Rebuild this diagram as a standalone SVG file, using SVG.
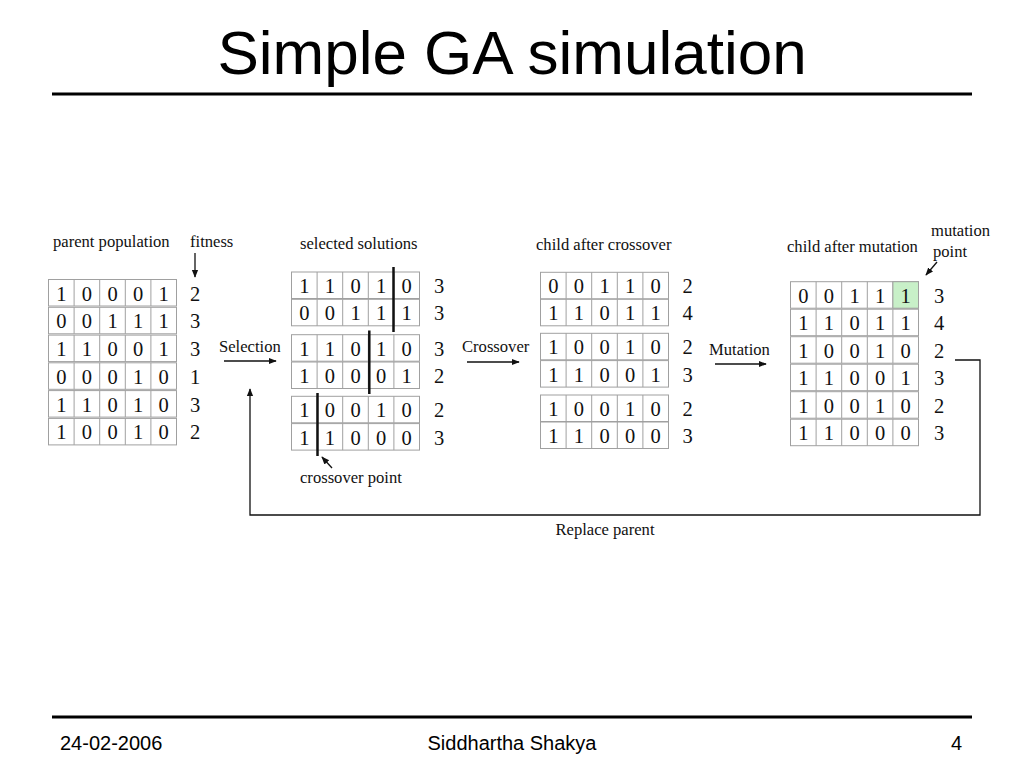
<svg xmlns="http://www.w3.org/2000/svg" width="1024" height="768" viewBox="0 0 1024 768">
<defs>
<style>
.cell{fill:#fff;stroke:#a0a0a0;stroke-width:1}
.div{stroke:#a0a0a0;stroke-width:1}
.d{font-family:"Liberation Serif","Times New Roman",serif;font-size:20.5px;fill:#111;text-anchor:middle}
.lbl{font-family:"Liberation Serif","Times New Roman",serif;font-size:16.6px;fill:#111}
.ln{fill:none;stroke:#111;stroke-width:1.3}
.cx{stroke:#111;stroke-width:2.5}
.hd{font-family:"Liberation Sans",Arial,sans-serif;fill:#000}
.rule{stroke:#000;stroke-width:3}
</style>
<marker id="ah" viewBox="0 0 10 10" refX="9" refY="5" markerWidth="8" markerHeight="8" markerUnits="userSpaceOnUse" orient="auto"><path d="M0,1 L10,5 L0,9 z" fill="#111"/></marker>
<g id="row"><rect class="cell" x="0" y="0" width="128" height="26.5"/><path class="div" d="M25.6,0V26.5M51.2,0V26.5M76.8,0V26.5M102.4,0V26.5"/></g>
</defs>
<rect width="1024" height="768" fill="#fff"/>

<g id="title">
<text class="hd" x="512" y="74" font-size="62" text-anchor="middle">Simple GA simulation</text>
<line class="rule" x1="52" y1="94" x2="972" y2="94"/>
</g>

<g id="parent-population">
<text class="lbl" x="53" y="247">parent population</text>
<text class="lbl" x="190" y="247">fitness</text>
<use href="#row" x="48.5" y="279.5"/><use href="#row" x="48.5" y="307.3"/><use href="#row" x="48.5" y="335.1"/>
<use href="#row" x="48.5" y="362.8"/><use href="#row" x="48.5" y="390.6"/><use href="#row" x="48.5" y="418.4"/>
<text class="d" x="61.3 86.9 112.5 138.1 163.7 195" y="300.5">100012</text>
<text class="d" x="61.3 86.9 112.5 138.1 163.7 195" y="328.3">001113</text>
<text class="d" x="61.3 86.9 112.5 138.1 163.7 195" y="356.1">110013</text>
<text class="d" x="61.3 86.9 112.5 138.1 163.7 195" y="383.8">000101</text>
<text class="d" x="61.3 86.9 112.5 138.1 163.7 195" y="411.6">110103</text>
<text class="d" x="61.3 86.9 112.5 138.1 163.7 195" y="439.4">100102</text>
</g>

<g id="selected-solutions">
<text class="lbl" x="300" y="249">selected solutions</text>
<use href="#row" x="291.5" y="272"/><use href="#row" x="291.5" y="299.3"/>
<use href="#row" x="291.5" y="334.7"/><use href="#row" x="291.5" y="362"/>
<use href="#row" x="291.5" y="396.3"/><use href="#row" x="291.5" y="423.6"/>
<text class="d" x="304.3 329.9 355.5 381.1 406.7 439" y="293">110103</text>
<text class="d" x="304.3 329.9 355.5 381.1 406.7 439" y="320.3">001113</text>
<text class="d" x="304.3 329.9 355.5 381.1 406.7 439" y="355.7">110103</text>
<text class="d" x="304.3 329.9 355.5 381.1 406.7 439" y="383">100012</text>
<text class="d" x="304.3 329.9 355.5 381.1 406.7 439" y="417.3">100102</text>
<text class="d" x="304.3 329.9 355.5 381.1 406.7 439" y="444.6">110003</text>
<line class="cx" x1="393.5" y1="267" x2="393.5" y2="332"/>
<line class="cx" x1="369.3" y1="330.5" x2="369.3" y2="394"/>
<line class="cx" x1="317.5" y1="393" x2="317.5" y2="456"/>
<text class="lbl" x="300" y="483">crossover point</text>
</g>

<g id="child-after-crossover">
<text class="lbl" x="536" y="250">child after crossover</text>
<use href="#row" x="540.5" y="272.3"/><use href="#row" x="540.5" y="299.3"/>
<use href="#row" x="540.5" y="333.3"/><use href="#row" x="540.5" y="360.6"/>
<use href="#row" x="540.5" y="395"/><use href="#row" x="540.5" y="422"/>
<text class="d" x="553.3 578.9 604.5 630.1 655.7 687.5" y="293.3">001102</text>
<text class="d" x="553.3 578.9 604.5 630.1 655.7 687.5" y="320.3">110114</text>
<text class="d" x="553.3 578.9 604.5 630.1 655.7 687.5" y="354.3">100102</text>
<text class="d" x="553.3 578.9 604.5 630.1 655.7 687.5" y="381.6">110013</text>
<text class="d" x="553.3 578.9 604.5 630.1 655.7 687.5" y="416">100102</text>
<text class="d" x="553.3 578.9 604.5 630.1 655.7 687.5" y="443">110003</text>
</g>

<g id="child-after-mutation">
<text class="lbl" x="787" y="252">child after mutation</text>
<text class="lbl" x="931" y="236">mutation</text>
<text class="lbl" x="933" y="257">point</text>
<use href="#row" x="790.5" y="281.7"/><use href="#row" x="790.5" y="309.2"/><use href="#row" x="790.5" y="336.7"/>
<use href="#row" x="790.5" y="364.2"/><use href="#row" x="790.5" y="391.7"/><use href="#row" x="790.5" y="419.2"/>
<rect x="892.9" y="281.7" width="25.6" height="26.5" fill="#c8f0c8" stroke="#a0a0a0" stroke-width="1"/>
<text class="d" x="803.3 828.9 854.5 880.1 905.7 939" y="302.7">001113</text>
<text class="d" x="803.3 828.9 854.5 880.1 905.7 939" y="330.2">110114</text>
<text class="d" x="803.3 828.9 854.5 880.1 905.7 939" y="357.7">100102</text>
<text class="d" x="803.3 828.9 854.5 880.1 905.7 939" y="385.2">110013</text>
<text class="d" x="803.3 828.9 854.5 880.1 905.7 939" y="412.7">100102</text>
<text class="d" x="803.3 828.9 854.5 880.1 905.7 939" y="440.2">110003</text>
</g>

<g id="connectors">
<line class="ln" x1="195" y1="253" x2="195" y2="277" marker-end="url(#ah)"/>
<text class="lbl" x="219" y="352">Selection</text>
<line class="ln" x1="224" y1="361" x2="276" y2="361" marker-end="url(#ah)"/>
<text class="lbl" x="462" y="352">Crossover</text>
<line class="ln" x1="467" y1="362" x2="519" y2="362" marker-end="url(#ah)"/>
<text class="lbl" x="709" y="355">Mutation</text>
<line class="ln" x1="715" y1="364" x2="766" y2="364" marker-end="url(#ah)"/>
<line class="ln" x1="332" y1="468" x2="322" y2="457" marker-end="url(#ah)"/>
<line class="ln" x1="937" y1="262" x2="926" y2="275" marker-end="url(#ah)"/>
<path class="ln" d="M955,360 H980 V515 H250 V389" marker-end="url(#ah)"/>
<text class="lbl" x="605" y="535" text-anchor="middle">Replace parent</text>
</g>

<g id="footer">
<line class="rule" x1="52" y1="717" x2="972" y2="717"/>
<text class="hd" x="60" y="750" font-size="20">24-02-2006</text>
<text class="hd" x="512" y="750" font-size="20" text-anchor="middle">Siddhartha Shakya</text>
<text class="hd" x="962" y="750" font-size="20" text-anchor="end">4</text>
</g>
</svg>
